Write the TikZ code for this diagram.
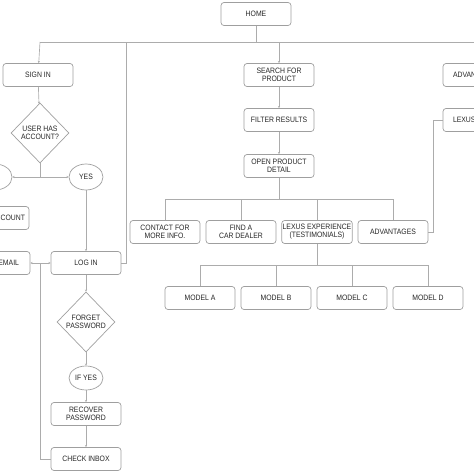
\documentclass[tikz,border=0pt]{standalone}
\usepackage{fontspec}
\setmainfont{Liberation Sans}[FakeStretch=0.88]
\usetikzlibrary{shapes, arrows.meta, positioning, calc}

\begin{document}
\begin{tikzpicture}[x=1pt, y=-1pt,
    box/.style={draw=gray!75, line width=0.7pt, rounded corners=3pt, minimum width=70pt, minimum height=23pt,
        inner sep=1pt, align=center, text=black!85, font=\fontsize{7.8}{8}\selectfont},
    decision/.style={diamond, draw=gray!75, line width=0.7pt, aspect=1, inner sep=0pt, align=center,
        minimum width=58pt, minimum height=60pt, text=black!85, font=\fontsize{7.8}{8}\selectfont},
    oval/.style={ellipse, draw=gray!75, line width=0.7pt, minimum width=34pt, minimum height=26pt, inner sep=0pt,
        text=black!85, font=\fontsize{7.8}{8}\selectfont},
    link/.style={draw=gray!65, line width=0.65pt},
    arr/.style={link, -{Stealth[length=2.2pt, width=2.2pt]}},
    twoarr/.style={link, {Stealth[length=2.2pt, width=2.2pt]}-{Stealth[length=2.2pt, width=2.2pt]}}
]
\useasboundingbox (0,0) rectangle (474,474);
\clip (0,0) rectangle (474,474);

% top level
\node[box] (home) at (256,14) {HOME};
\coordinate (busL) at (40,42);
\coordinate (busM) at (126,42);
\coordinate (busR) at (490,42);
\draw[link] (home) -- (home|-busL);
\draw[link] (busL) -- (busR);

% sign in branch
\node[box] (signin) at (38,75) {SIGN IN};
\node[decision] (hasacc) at (40,133) {USER HAS\\ACCOUNT?};
\node[oval] (no) at (-5,177) {};
\node[oval] (yes) at (86,177) {YES};
\coordinate (split) at (40,177);
\node[box, text width=62pt, align=right] (create) at (-6,218) {ACCOUNT};
\node[box, text width=48pt, align=right] (email) at (-5,263) {EMAIL};
\node[box] (login) at (86,263) {LOG IN};
\node[decision] (forget) at (86,322) {FORGET\\PASSWORD};
\node[oval, minimum height=24pt] (ifyes) at (86,378) {IF YES};
\node[box] (recover) at (86,414) {RECOVER\\PASSWORD};
\node[box] (inbox) at (86,459) {CHECK INBOX};
\coordinate (mid) at ($(email.east)!0.5!(login.west)$);

\draw[arr] (busL) -- (signin);
\draw[arr] (signin) -- (hasacc);
\draw[link] (hasacc.south) -- (split);
\draw[arr] (split) -- (no.east);
\draw[arr] (split) -- (yes.west);
\draw[arr] (yes) -- (login);
\draw[twoarr] (email.east) -- (login.west);
\draw[link] (mid) |- (inbox.west);
\draw[link] (busM) |- (login.east);
\draw[arr] (login) -- (forget);
\draw[arr] (forget) -- (ifyes);
\draw[arr] (ifyes) -- (recover);
\draw[arr] (recover) -- (inbox);

% product branch
\node[box] (search) at (279,75) {SEARCH FOR\\PRODUCT};
\node[box] (filter) at (279,120) {FILTER RESULTS};
\node[box] (open) at (279,166) {OPEN PRODUCT\\DETAIL};
\draw[arr] (search|-busL) -- (search);
\draw[arr] (search) -- (filter);
\draw[arr] (filter) -- (open);

\node[box] (contact) at (165,232) {CONTACT FOR\\MORE INFO.};
\node[box] (dealer) at (241,232) {FIND A\\CAR DEALER};
\node[box] (lexusexp) at (317,232) {LEXUS EXPERIENCE\\(TESTIMONIALS)};
\node[box] (adv) at (393,232) {ADVANTAGES};
\coordinate (row2) at (279,199);
\draw[link] (open) -- (row2);
\draw[link] (contact|-row2) -- (adv|-row2);
\foreach \n in {contact,dealer,lexusexp,adv}
    \draw[link] (\n|-row2) -- (\n);

% models
\coordinate (row3) at (317,265);
\foreach \n/\x/\m in {modela/200/A, modelb/276/B, modelc/352/C, modeld/428/D}
    \node[box] (\n) at (\x,298) {MODEL \m};
\draw[link] (lexusexp) -- (row3);
\draw[link] (modela|-row3) -- (modeld|-row3);
\foreach \n in {modela,modelb,modelc,modeld}
    \draw[link] (\n|-row3) -- (\n);

% right edge
\node[box, text width=50pt, align=left] (advtop) at (478,75) {ADVANTAGES};
\node[box, text width=50pt, align=left] (lexus) at (478,120) {LEXUS};
\draw[link] (adv.east) -- ($(adv.east)+(5,0)$) |- (lexus.west);
\end{tikzpicture}
\end{document}
